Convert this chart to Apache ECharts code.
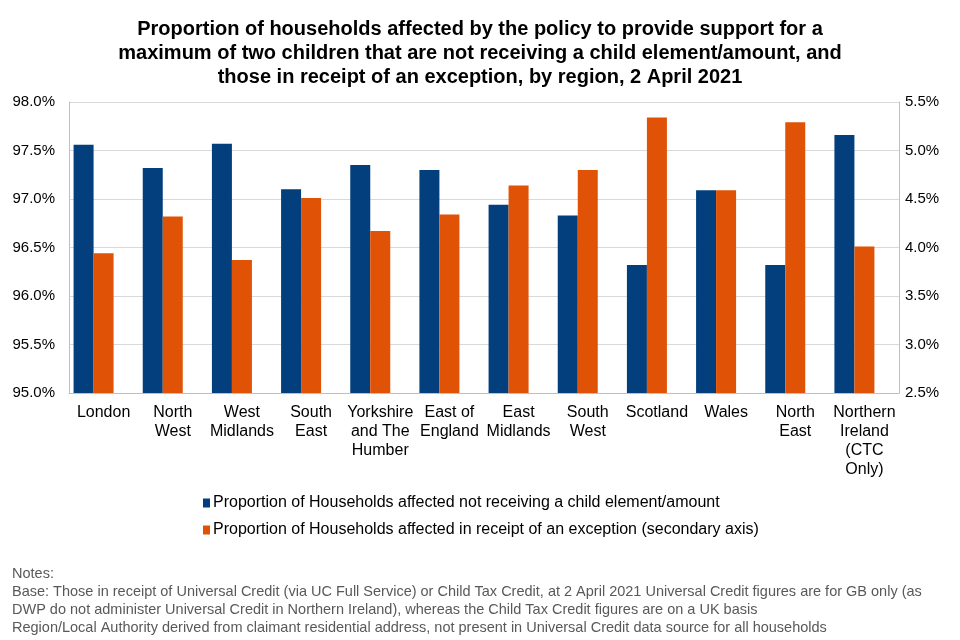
<!DOCTYPE html>
<html>
<head>
<meta charset="utf-8">
<script src="https://cdn.jsdelivr.net/npm/echarts@6/dist/echarts.min.js"></script>
<style>
html,body{margin:0;padding:0;background:#fff;}
#main{width:960px;height:640px;}
</style>
</head>
<body>
<div id="main"></div>
<script>
var regions=['London','North\nWest','West\nMidlands','South\nEast','Yorkshire\nand The\nHumber','East of\nEngland','East\nMidlands','South\nWest','Scotland','Wales','North\nEast','Northern\nIreland\n(CTC\nOnly)'];
var notReceiving=[97.56,97.32,97.57,97.10,97.35,97.30,96.94,96.83,96.32,97.09,96.32,97.66];
var exception=[3.94,4.32,3.87,4.51,4.17,4.34,4.64,4.80,5.34,4.59,5.29,4.01];
var leftTicks={min:95,max:98,step:0.5};
var rightTicks={min:2.5,max:5.5,step:0.5};
var seriesNames=['Proportion of Households affected not receiving a child element/amount','Proportion of Households affected in receipt of an exception (secondary axis)'];
var notes=['Notes:',
  'Base: Those in receipt of Universal Credit (via UC Full Service) or Child Tax Credit, at 2 April 2021 Universal Credit figures are for GB only (as',
  'DWP do not administer Universal Credit in Northern Ireland), whereas the Child Tax Credit figures are on a UK basis',
  'Region/Local Authority derived from claimant residential address, not present in Universal Credit data source for all households'];

var sans='"Liberation Sans",Arial,sans-serif';
var myChart=echarts.init(document.getElementById('main'));

function pct(v){return v.toFixed(1)+'%';}

option={
  animation:false,
  backgroundColor:'#fff',
  title:{
    text:'Proportion of households affected by the policy to provide support for a\nmaximum of two children that are not receiving a child element/amount, and\nthose in receipt of an exception, by region, 2 April 2021',
    left:'center',top:12,
    textStyle:{fontFamily:sans,fontSize:20,fontWeight:'bold',color:'#000',lineHeight:24}
  },
  legend:{
    orient:'vertical',left:198,top:490,
    itemWidth:7,itemHeight:9,itemGap:11,
    icon:'rect',
    data:seriesNames,
    textStyle:{fontFamily:sans,fontSize:16,color:'#000',padding:[0,0,0,-2]}
  },
  grid:{left:69,right:61,top:102,bottom:247,containLabel:false},
  xAxis:{
    type:'category',data:regions,
    axisLine:{lineStyle:{color:'#bfbfbf'}},
    axisTick:{show:false},
    axisLabel:{interval:0,fontFamily:sans,fontSize:16,color:'#000',lineHeight:19,margin:10}
  },
  yAxis:[{
    type:'value',min:leftTicks.min,max:leftTicks.max,interval:leftTicks.step,
    axisLine:{show:true,lineStyle:{color:'#bfbfbf'}},
    axisTick:{show:false},
    splitLine:{lineStyle:{color:'#d9d9d9'}},
    axisLabel:{formatter:pct,fontFamily:sans,fontSize:15,color:'#000',margin:14}
  },{
    type:'value',min:rightTicks.min,max:rightTicks.max,interval:rightTicks.step,
    axisLine:{show:true,lineStyle:{color:'#bfbfbf'}},
    axisTick:{show:false},
    splitLine:{show:false},
    axisLabel:{formatter:pct,fontFamily:sans,fontSize:15,color:'#000',margin:6}
  }],
  series:[
    {name:seriesNames[0],type:'bar',yAxisIndex:0,data:notReceiving,barWidth:20,barGap:'0%',itemStyle:{color:'#023f7c'}},
    {name:seriesNames[1],type:'bar',yAxisIndex:1,data:exception,barWidth:20,barGap:'0%',itemStyle:{color:'#e05206'}},
    // empty slot so the pair sits left of the category centre, as in the original
    {name:'spacer',type:'bar',yAxisIndex:0,data:regions.map(function(){return '-';}),barWidth:20,barGap:'0%',silent:true}
  ],
  graphic:notes.map(function(t,i){
    return {type:'text',left:12,top:566+i*18,style:{text:t,fontFamily:sans,fontSize:14.5,fill:'#595959'}};
  })
};

myChart.setOption(option);
</script>
</body>
</html>
